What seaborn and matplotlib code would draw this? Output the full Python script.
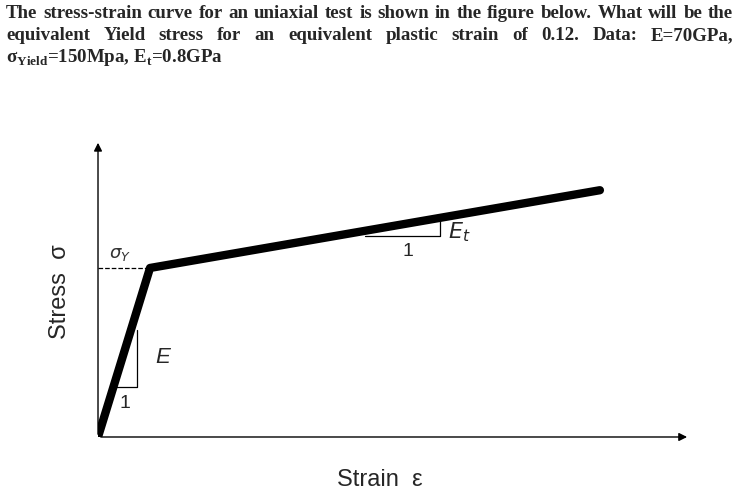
import matplotlib
matplotlib.use("Agg")
import matplotlib.pyplot as plt
import seaborn as sns

sns.set_theme(style="white")
plt.rcParams["font.family"] = ["Liberation Sans", "DejaVu Sans"]

# schematic bilinear curve (strain in units of yield strain, stress in units of yield stress)
strain = [0.0, 1.0, 9.65]
stress = [0.0, 1.0, 1.46]
x_max, y_max = 11.38, 1.757

title_lines = [
    "The stress-strain curve for an uniaxial test is shown in the figure below. What will be the",
    "equivalent Yield stress for an equivalent plastic strain of 0.12. Data: E=70GPa,",
]

fig = plt.figure(figsize=(7.38, 4.93), dpi=100)
ax = fig.add_axes([0.1328, 0.1136, 0.802, 0.6024])
sns.lineplot(x=strain, y=stress, ax=ax, color="black", lw=6, solid_capstyle="round")
ax.set_xlim(0, x_max)
ax.set_ylim(0, y_max)
for s in ax.spines.values():
    s.set_visible(False)
ax.set_xticks([])
ax.set_yticks([])
ax.annotate("", xy=(x_max, 0), xytext=(0, 0), annotation_clip=False,
            arrowprops=dict(arrowstyle="-|>", color="black", lw=1, mutation_scale=12))
ax.annotate("", xy=(0, y_max), xytext=(0, 0), annotation_clip=False,
            arrowprops=dict(arrowstyle="-|>", color="black", lw=1, mutation_scale=12))

# yield dashed line
ax.plot([0, strain[1]], [stress[1], stress[1]], ls="--", color="black", lw=0.9)
ax.text(0.22, 1.03, r"$\sigma_Y$", fontsize=13, ha="left", va="bottom", color="#333333")

# elastic slope triangle
ax.plot([0.3, 0.75, 0.75], [0.296, 0.296, 0.633], color="black", lw=0.9)
ax.text(0.52, 0.2, "1", fontsize=14, ha="center", va="center")
ax.text(1.25, 0.47, "E", fontsize=16, ha="center", va="center", style="italic")

# plastic slope triangle
ax.plot([5.13, 6.58, 6.58], [1.189, 1.189, 1.285], color="black", lw=0.9)
ax.text(5.96, 1.1, "1", fontsize=14, ha="center", va="center")
ax.text(6.95, 1.21, r"$E_t$", fontsize=16, ha="center", va="center")

fig.text(380 / 738, 1 - 480 / 493, "Strain  ε", fontsize=17, ha="center", va="center")
fig.text(60 / 738, 1 - 292 / 493, "Stress  σ", fontsize=17, ha="center", va="center", rotation=90)

# title block, justified lines
serif = ["Liberation Serif", "DejaVu Serif"]
plt.rcParams["mathtext.fontset"] = "custom"
plt.rcParams["mathtext.rm"] = "Liberation Serif:bold"
left, right = 6, 733
fs = 13.6
fig.canvas.draw()
r = fig.canvas.get_renderer()
for i, line in enumerate(title_lines):
    y = 1 - (14 + 21.5 * i) / 493
    words = line.split()
    texts = [fig.text(0, y, w, fontsize=fs, fontweight="bold", family=serif, va="center")
             for w in words]
    widths = [t.get_window_extent(r).width for t in texts]
    gap = (right - left - sum(widths)) / (len(words) - 1)
    x = left
    for t, w in zip(texts, widths):
        t.set_x(x / 738)
        x += w + gap
fig.text(left / 738, 1 - 57 / 493, r"σ$_{\rm Yield}$=150Mpa, E$_{\rm t}$=0.8GPa", fontsize=fs,
         fontweight="bold", family=serif, va="center")

fig.savefig("out.png", dpi=100)
